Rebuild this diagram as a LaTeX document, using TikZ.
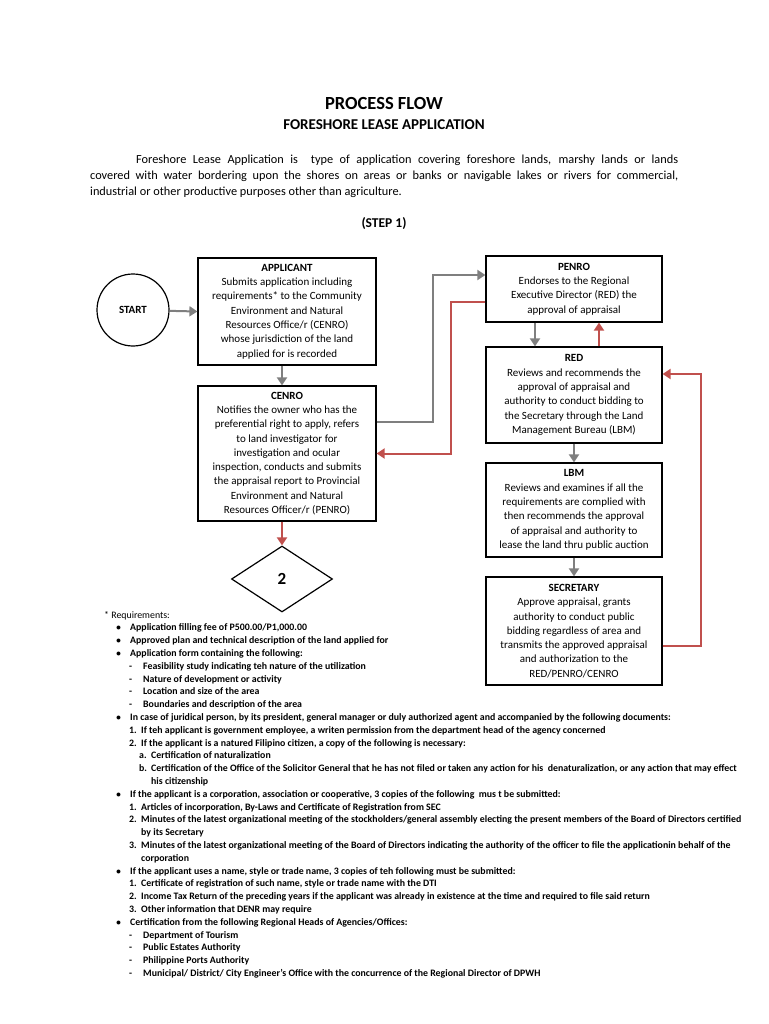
\documentclass[tikz,border=0pt]{standalone}
\usepackage{fontspec}
\setmainfont{Carlito}
\usetikzlibrary{arrows.meta,shapes.geometric}

\definecolor{flowgray}{RGB}{127,127,127}
\definecolor{flowred}{RGB}{192,80,77}

\newcommand{\bul}{\makebox[14pt][l]{$\bullet$}}
\newcommand{\dsh}{\makebox[14pt][l]{-}}
\newcommand{\num}[1]{\makebox[12pt][l]{#1}}

\tikzset{
  stepbox/.style={draw, line width=1.2pt, align=center, inner sep=2pt,
    font=\fontsize{11}{14.3}\selectfont},
  grayflow/.style={draw=flowgray, line width=2pt, -{Triangle[length=8pt,width=10pt]}},
  redflow/.style={draw=flowred, line width=2pt, -{Triangle[length=8pt,width=10pt]}},
  reqline/.style={anchor=base west, inner sep=0pt, font=\fontsize{9.85}{12}\selectfont\bfseries},
}

\begin{document}
\begin{tikzpicture}[x=1pt, y=1pt]
  \useasboundingbox (0,0) rectangle (768,-1024);

  % heading
  \node[anchor=base, font=\fontsize{18.5}{20}\selectfont\bfseries] (title) at (384,-110) {PROCESS FLOW};
  \node[anchor=base, font=\fontsize{15}{16}\selectfont\bfseries] (subtitle) at (384,-130) {FORESHORE LEASE APPLICATION};
  \node[anchor=north west, inner sep=0pt, text width=588pt, align=justify,
    font=\fontsize{12.3}{16}\selectfont] (intro) at (90,-155)
    {\hspace*{46pt}Foreshore Lease Application is\ \ type of application covering foreshore lands, marshy lands or lands\linebreak
     covered with water bordering upon the shores on areas or banks or navigable lakes or rivers for commercial,\linebreak
     industrial or other productive purposes other than agriculture.};
  \node[anchor=base, font=\fontsize{13.5}{15}\selectfont\bfseries] (step1) at (384,-227) {(STEP 1)};

  % flow, left column
  \node[draw, circle, line width=1.2pt, minimum size=72pt, font=\fontsize{11}{13}\selectfont\bfseries] (start) at (133,-310) {START};
  \node[stepbox, minimum width=178pt, minimum height=107pt] (applicant) at (287,-311.5)
    {\textbf{APPLICANT}\\Submits application including\\requirements* to the Community\\Environment and Natural\\Resources Office/r (CENRO)\\whose jurisdiction of the land\\applied for is recorded};
  \node[stepbox, minimum width=178pt, minimum height=135pt] (cenro) at (287,-453.5)
    {\textbf{CENRO}\\Notifies the owner who has the\\preferential right to apply, refers\\to land investigator for\\investigation and ocular\\inspection, conducts and submits\\the appraisal report to Provincial\\Environment and Natural\\Resources Officer/r (PENRO)};
  \node[draw, diamond, line width=1.2pt, minimum width=101pt, minimum height=66pt, inner sep=0pt,
    font=\fontsize{17}{17}\selectfont\bfseries] (step2) at (282,-579) {2};

  % flow, right column
  \node[stepbox, minimum width=176pt, minimum height=66pt] (penro) at (574,-289)
    {\textbf{PENRO}\\Endorses to the Regional\\Executive Director (RED) the\\approval of appraisal};
  \node[stepbox, minimum width=176pt, minimum height=96pt] (red) at (574,-395)
    {\textbf{RED}\\Reviews and recommends the\\approval of appraisal and\\authority to conduct bidding to\\the Secretary through the Land\\Management Bureau (LBM)};
  \node[stepbox, minimum width=176pt, minimum height=94pt] (lbm) at (574,-510)
    {\textbf{LBM}\\Reviews and examines if all the\\requirements are complied with\\then recommends the approval\\of appraisal and authority to\\lease the land thru public auction};
  \node[stepbox, minimum width=176pt, minimum height=108pt] (secretary) at (574,-631)
    {\textbf{SECRETARY}\\Approve appraisal, grants\\authority to conduct public\\bidding regardless of area and\\transmits the approved appraisal\\and authorization to the\\RED/PENRO/CENRO};

  % connectors
  \draw[grayflow] (start) -- (applicant.west);
  \draw[grayflow] ([xshift=-5pt]applicant.south) -- ([xshift=-5pt]cenro.north);
  \draw[redflow] (step2.north |- cenro.south) -- (step2.north);
  \draw[grayflow] ([yshift=31.5pt]cenro.east) -- ++(56,0) |- ([yshift=14pt]penro.west);
  \draw[redflow] ([yshift=-13pt]penro.west) -- ++(-34,0) |- (cenro.east);
  \draw[grayflow] ([xshift=-39pt]penro.south) -- ([xshift=-39pt]red.north);
  \draw[redflow] ([xshift=25pt]red.north) -- ([xshift=25pt]penro.south);
  \draw[grayflow] (red) -- (lbm);
  \draw[grayflow] (lbm) -- (secretary);
  \draw[redflow] ([yshift=-15pt]secretary.east) -- ++(38,0) |- ([yshift=21pt]red.east);

  % requirements
  \node[reqline, font=\fontsize{9.85}{12}\selectfont] (rq) at (104,-618) {* Requirements:};
  \node[reqline] (rq-fee) at (116,-630.8) {\bul Application filling fee of P500.00/P1,000.00};
  \node[reqline] (rq-plan) at (116,-643.6) {\bul Approved plan and technical description of the land applied for};
  \node[reqline] (rq-form) at (116,-656.4) {\bul Application form containing the following:};
  \node[reqline] (rq-form1) at (129,-669.2) {\dsh Feasibility study indicating teh nature of the utilization};
  \node[reqline] (rq-form2) at (129,-682) {\dsh Nature of development or activity};
  \node[reqline] (rq-form3) at (129,-694.8) {\dsh Location and size of the area};
  \node[reqline] (rq-form4) at (129,-707.6) {\dsh Boundaries and description of the area};
  \node[reqline] (rq-jur) at (116,-720.4) {\bul In case of juridical person, by its president, general manager or duly authorized agent and accompanied by the following documents:};
  \node[reqline] (rq-jur1) at (129,-733.2) {\num{1.}If teh applicant is government employee, a writen permission from the department head of the agency concerned};
  \node[reqline] (rq-jur2) at (129,-746) {\num{2.}If the applicant is a natured Filipino citizen, a copy of the following is necessary:};
  \node[reqline] (rq-jur2a) at (139,-758.8) {\num{a.}Certification of naturalization};
  \node[reqline] (rq-jur2b) at (139,-771.6) {\num{b.}Certification of the Office of the Solicitor General that he has not filed or taken any action for his\ \ denaturalization, or any action that may effect};
  \node[reqline] (rq-jur2c) at (151,-784.4) {his citizenship};
  \node[reqline] (rq-corp) at (116,-797.2) {\bul If the applicant is a corporation, association or cooperative, 3 copies of the following\ \ mus t be submitted:};
  \node[reqline] (rq-corp1) at (129,-810) {\num{1.}Articles of incorporation, By-Laws and Certificate of Registration from SEC};
  \node[reqline] (rq-corp2) at (129,-822.8) {\num{2.}Minutes of the latest organizational meeting of the stockholders/general assembly electing the present members of the Board of Directors certified};
  \node[reqline] (rq-corp2c) at (141,-835.6) {by its Secretary};
  \node[reqline] (rq-corp3) at (129,-848.4) {\num{3.}Minutes of the latest organizational meeting of the Board of Directors indicating the authority of the officer to file the applicationin behalf of the};
  \node[reqline] (rq-corp3c) at (141,-861.2) {corporation};
  \node[reqline] (rq-trade) at (116,-874) {\bul If the applicant uses a name, style or trade name, 3 copies of teh following must be submitted:};
  \node[reqline] (rq-trade1) at (129,-886.8) {\num{1.}Certificate of registration of such name, style or trade name with the DTI};
  \node[reqline] (rq-trade2) at (129,-899.6) {\num{2.}Income Tax Return of the preceding years if the applicant was already in existence at the time and required to file said return};
  \node[reqline] (rq-trade3) at (129,-912.4) {\num{3.}Other information that DENR may require};
  \node[reqline] (rq-cert) at (116,-925.2) {\bul Certification from the following Regional Heads of Agencies/Offices:};
  \node[reqline] (rq-cert1) at (129,-938) {\dsh Department of Tourism};
  \node[reqline] (rq-cert2) at (129,-950.8) {\dsh Public Estates Authority};
  \node[reqline] (rq-cert3) at (129,-963.6) {\dsh Philippine Ports Authority};
  \node[reqline] (rq-cert4) at (129,-976.4) {\dsh Municipal/ District/ City Engineer’s Office with the concurrence of the Regional Director of DPWH};
\end{tikzpicture}
\end{document}
